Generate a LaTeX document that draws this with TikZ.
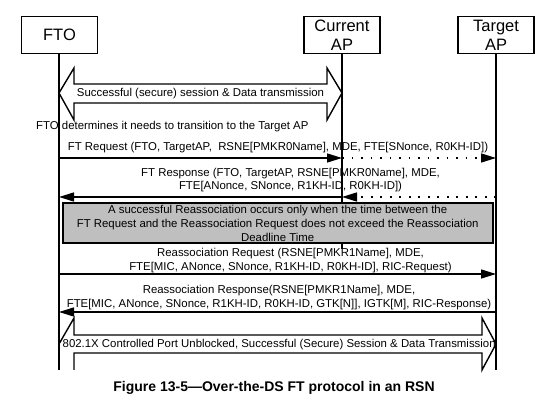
\documentclass[tikz,border=0pt]{standalone}
\usepackage{fontspec}
\setmainfont{Liberation Sans}
\usetikzlibrary{arrows.meta}
\begin{document}
\begin{tikzpicture}[x=1pt,y=-1pt,
  every node/.style={inner sep=0pt, text=black},
  actor/.style={draw, line width=1.4pt, minimum width=76pt, minimum height=37pt, align=center, font=\fontsize{16.5}{19}\selectfont},
  life/.style={line width=1.5pt},
  msgtext/.style={align=center, font=\fontsize{11.4}{13.7}\selectfont},
  msg/.style={line width=1.5pt, -{Triangle[length=15pt,width=9pt]}},
  dotmsg/.style={msg, dash pattern=on 1.6pt off 7.9pt},
  blockarrow/.style={draw, line width=1.4pt, line join=miter},
  note/.style={draw, line width=1.6pt, fill=black!25, minimum width=430pt, minimum height=40pt, align=center, font=\fontsize{11.4}{13.7}\selectfont},
  caption/.style={font=\bfseries\fontsize{14}{16}\selectfont}
]
\useasboundingbox (0,0) rectangle (554,411);

% actors
\node[actor] (fto) at (59.5,35) {FTO};
\node[actor] (cur) at (342,35) {Current\\AP};
\node[actor] (tgt) at (496,35) {Target\\AP};

% lifelines
\coordinate (ftoend) at (59,370);
\coordinate (curend) at (342,249);
\coordinate (tgtend) at (496,370);
\draw[life] (fto.south -| ftoend) -- (ftoend);
\draw[life] (cur.south) -- (curend);
\draw[life] (tgt.south) -- (tgtend);

% first block arrow
\draw[blockarrow] (59,93) -- (74,68) -- (74,84) -- (327,84) -- (327,68) -- (342,93)
  -- (327,120) -- (327,103) -- (74,103) -- (74,120) -- cycle;
\node[msgtext] (sess) at (200.5,94) {Successful (secure) session \& Data transmission};

\node[msgtext, anchor=west] (decide) at (36,127) {FTO determines it needs to transition to the Target AP};

% FT Request
\coordinate (f1) at (59,158);
\coordinate (c1) at (342,158);
\coordinate (t1) at (496,158);
\node[msgtext] (ftreq) at (278,148) {FT Request (FTO, TargetAP,\ \ RSNE[PMKR0Name], MDE, FTE[SNonce, R0KH-ID])};
\draw[msg] (f1) -- (c1);
\draw[dotmsg] (c1) -- (t1);

% FT Response
\coordinate (f2) at (59,197);
\coordinate (c2) at (342,197);
\coordinate (t2) at (496,197);
\node[msgtext] (ftresp) at (290.5,180) {FT Response (FTO, TargetAP, RSNE[PMKR0Name], MDE,\\FTE[ANonce, SNonce, R1KH-ID, R0KH-ID])};
\draw[dotmsg] (t2) -- (c2);
\draw[msg] (c2) -- (f2);

% note
\node[note] (deadline) at (277.7,223.3) {A successful Reassociation occurs only when the time between the\\FT Request and the Reassociation Request does not exceed the Reassociation\\Deadline Time};

% Reassociation Request
\coordinate (f3) at (59,274);
\coordinate (t3) at (496,274);
\node[msgtext] (rreq) at (290.5,260.5) {Reassociation Request (RSNE[PMKR1Name], MDE,\\FTE[MIC, ANonce, SNonce, R1KH-ID, R0KH-ID], RIC-Request)};
\draw[msg] (f3) -- (t3);

% Reassociation Response
\coordinate (f4) at (59,312);
\coordinate (t4) at (496,312);
\node[msgtext] (rresp) at (279,297.5) {Reassociation Response(RSNE[PMKR1Name], MDE,\\FTE[MIC, ANonce, SNonce, R1KH-ID, R0KH-ID, GTK[N]], IGTK[M], RIC-Response)};
\draw[msg] (t4) -- (f4);

% second block arrow
\draw[blockarrow] (59,344) -- (74,318) -- (74,335) -- (482,335) -- (482,318) -- (496,344)
  -- (482,370) -- (482,353) -- (74,353) -- (74,370);
\begin{scope}
\clip (0,0) rectangle (497,411);
\node[msgtext, anchor=west] (unblock) at (62.5,345) {802.1X Controlled Port Unblocked, Successful (Secure) Session \& Data Transmission};
\end{scope}

% caption
\node[caption] (cap) at (274,388) {Figure 13-5—Over-the-DS FT protocol in an RSN};
\end{tikzpicture}
\end{document}
